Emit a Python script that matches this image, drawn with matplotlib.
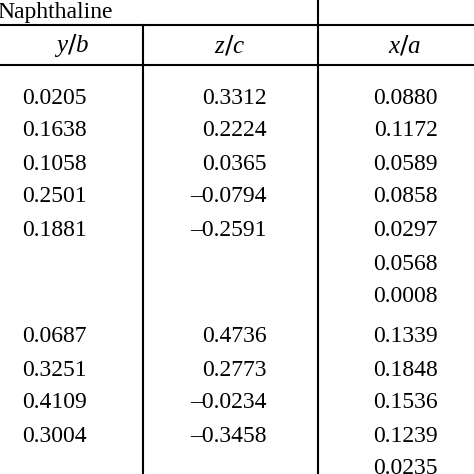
import matplotlib
matplotlib.use("Agg")
import matplotlib.pyplot as plt

title = "Naphthaline"
headers = ["$\\mathit{y/b}$", "$\\mathit{z/c}$", "$\\mathit{x/a}$"]
yb = ["0.0205", "0.1638", "0.1058", "0.2501", "0.1881", "", "", "0.0687", "0.3251", "0.4109", "0.3004", ""]
zc = ["0.3312", "0.2224", "0.0365", "\u20130.0794", "\u20130.2591", "", "", "0.4736", "0.2773", "\u20130.0234", "\u20130.3458", ""]
xa = ["0.0880", "0.1172", "0.0589", "0.0858", "0.0297", "0.0568", "0.0008", "0.1339", "0.1848", "0.1536", "0.1239", "0.0235"]
row_y = [98, 131, 164, 197, 230, 264, 296, 337, 370, 403, 437, 468]

plt.rcParams['font.family'] = ['Liberation Serif']
plt.rcParams['mathtext.fontset'] = 'custom'
plt.rcParams['mathtext.it'] = 'Liberation Serif:italic'
fig = plt.figure(figsize=(4.74, 4.74), dpi=100)
ax = fig.add_axes([0, 0, 1, 1])
ax.set_xlim(0, 474)
ax.set_ylim(474, 0)
ax.axis('off')

fs = 17
lw = 1.5
ax.axhline(25, color='black', lw=lw)
ax.axhline(65, color='black', lw=lw)
ax.plot([143, 143], [25, 474], color='black', lw=lw)
ax.plot([318, 318], [0, 474], color='black', lw=lw)

ax.text(-3, 12, title, fontsize=fs, ha='left', va='center')
for x, h in zip([72, 230, 405], headers):
    ax.text(x, 45, h, fontsize=fs + 1, ha='center', va='center')

for y, a, b, c in zip(row_y, yb, zc, xa):
    ax.text(22, y, a, fontsize=fs, ha='left', va='center')
    ax.text(267, y, b, fontsize=fs, ha='right', va='center')
    ax.text(438, y, c, fontsize=fs, ha='right', va='center')

fig.savefig("out.png", dpi=100)
